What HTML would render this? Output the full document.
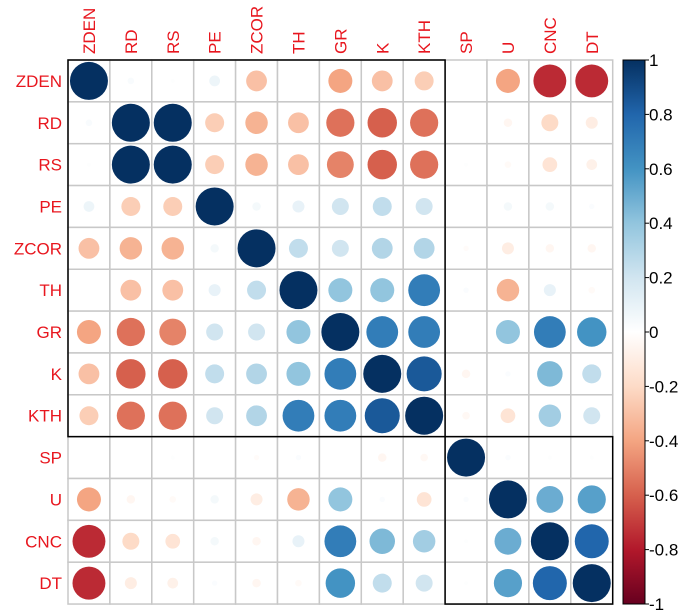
<!DOCTYPE html>
<html><head><meta charset="utf-8"><style>
html,body{margin:0;padding:0;background:#fff;}
svg{display:block;font-family:"Liberation Sans",Arial,sans-serif;}
</style></head><body>
<svg id="chart" width="685" height="616"></svg>
<script>
const labels = ["ZDEN","RD","RS","PE","ZCOR","TH","GR","K","KTH","SP","U","CNC","DT"];
const rowZDEN = [1,0.03,0.01,0.08,-0.3,0,-0.4,-0.3,-0.25,0,-0.4,-0.75,-0.75];
const rowRD   = [0.03,1,1,-0.25,-0.35,-0.3,-0.55,-0.6,-0.55,0,-0.05,-0.2,-0.1];
const rowRS   = [0.01,1,1,-0.25,-0.35,-0.3,-0.5,-0.6,-0.55,0.01,-0.03,-0.15,-0.08];
const rowPE   = [0.08,-0.25,-0.25,1,0.05,0.1,0.2,0.25,0.2,0,0.05,0.05,0.02];
const rowZCOR = [-0.3,-0.35,-0.35,0.05,1,0.25,0.2,0.3,0.3,-0.02,-0.1,-0.05,-0.05];
const rowTH   = [0,-0.3,-0.3,0.1,0.25,1,0.4,0.4,0.7,0.02,-0.35,0.1,-0.03];
const rowGR   = [-0.4,-0.55,-0.5,0.2,0.2,0.4,1,0.7,0.7,0,0.4,0.7,0.6];
const rowK    = [-0.3,-0.6,-0.6,0.25,0.3,0.4,0.7,1,0.85,-0.05,0.02,0.45,0.25];
const rowKTH  = [-0.25,-0.55,-0.55,0.2,0.3,0.7,0.7,0.85,1,-0.04,-0.15,0.35,0.2];
const rowSP   = [0,0,0.01,0,-0.02,0.02,0,-0.05,-0.04,1,0.02,0.01,0.01];
const rowU    = [-0.4,-0.05,-0.03,0.05,-0.1,-0.35,0.4,0.02,-0.15,0.02,1,0.5,0.55];
const rowCNC  = [-0.75,-0.2,-0.15,0.05,-0.05,0.1,0.7,0.45,0.35,0.01,0.5,1,0.8];
const rowDT   = [-0.75,-0.1,-0.08,0.02,-0.05,-0.03,0.6,0.25,0.2,0.01,0.55,0.8,1];
const corr = [rowZDEN,rowRD,rowRS,rowPE,rowZCOR,rowTH,rowGR,rowK,rowKTH,rowSP,rowU,rowCNC,rowDT];
const clusters = [[0,8],[9,12]];
const barTicks = [1,0.8,0.6,0.4,0.2,0,-0.2,-0.4,-0.6,-0.8,-1];

const NS="http://www.w3.org/2000/svg";
const svg=document.getElementById('chart');
const X0=68,Y0=60,CW=41.9,CH=41.85,N=labels.length;
const stops=["#67001F","#B2182B","#D6604D","#F4A582","#FDDBC7","#FFFFFF","#D1E5F0","#92C5DE","#4393C3","#2166AC","#053061"];
function hex(h){return [1,3,5].map(i=>parseInt(h.substr(i,2),16));}
function color(v){const t=(v+1)/2*10;const i=Math.min(9,Math.floor(t));const f=t-i;
 const a=hex(stops[i]),b=hex(stops[i+1]);return 'rgb('+a.map((c,k)=>Math.round(c+(b[k]-c)*f)).join(',')+')';}
function mk(tag,attrs){const e=document.createElementNS(NS,tag);for(const k in attrs)e.setAttribute(k,attrs[k]);svg.appendChild(e);return e;}
const xs=j=>X0+j*CW, ys=i=>Y0+i*CH;
for(let i=0;i<N;i++)for(let j=0;j<N;j++){
 const r=mk('rect',{x:xs(j),y:ys(i),width:CW,height:CH,fill:'#fff',stroke:'#c8c8c8','stroke-width':1.5});
 
 
}
for(let i=0;i<N;i++)for(let j=0;j<N;j++){
 const v=corr[i][j];
 const c=mk('circle',{cx:xs(j)+CW/2,cy:ys(i)+CH/2,r:19*Math.sqrt(Math.abs(v)),fill:color(v)});
 
 
}
clusters.forEach(([a,b])=>{
 const r=mk('rect',{x:xs(a),y:ys(a),width:(b-a+1)*CW,height:(b-a+1)*CH,fill:'none',stroke:'#000','stroke-width':1.5});
 
 
});
labels.forEach((l,i)=>{
 const t=mk('text',{x:62,y:ys(i)+CH/2+6,'text-anchor':'end','font-size':17,fill:'#e8161e'});
 t.textContent=l;
 
 
 const cx=xs(i)+CW/2+6;
 const c=mk('text',{x:cx,y:54,'font-size':17,fill:'#e8161e',transform:'rotate(-90 '+cx+' 54)'});
 c.textContent=l;
 
 
});
const BX=623,BW=22,BT=60,BB=604;
const defs=mk('defs',{});
const g=document.createElementNS(NS,'linearGradient');g.setAttribute('id','cg');g.setAttribute('x1','0');g.setAttribute('y1','1');g.setAttribute('x2','0');g.setAttribute('y2','0');
stops.forEach((s,k)=>{const st=document.createElementNS(NS,'stop');st.setAttribute('offset',k/10);st.setAttribute('stop-color',s);g.appendChild(st);});
defs.appendChild(g);
const bar=mk('rect',{x:BX,y:BT,width:BW,height:BB-BT,fill:'url(#cg)',stroke:'#000','stroke-width':1});


const by=v=>BB-(v+1)/2*(BB-BT);
barTicks.forEach(v=>{
 const y=by(v);
 const tk=mk('line',{x1:BX+BW,x2:BX+BW+4,y1:y,y2:y,stroke:'#000'});
 
 
 const t=mk('text',{x:BX+BW+4,y:y+6,'font-size':17,fill:'#000'});
 t.textContent=(v===0?'0':String(v));
 
 
});
</script>
</body></html>
